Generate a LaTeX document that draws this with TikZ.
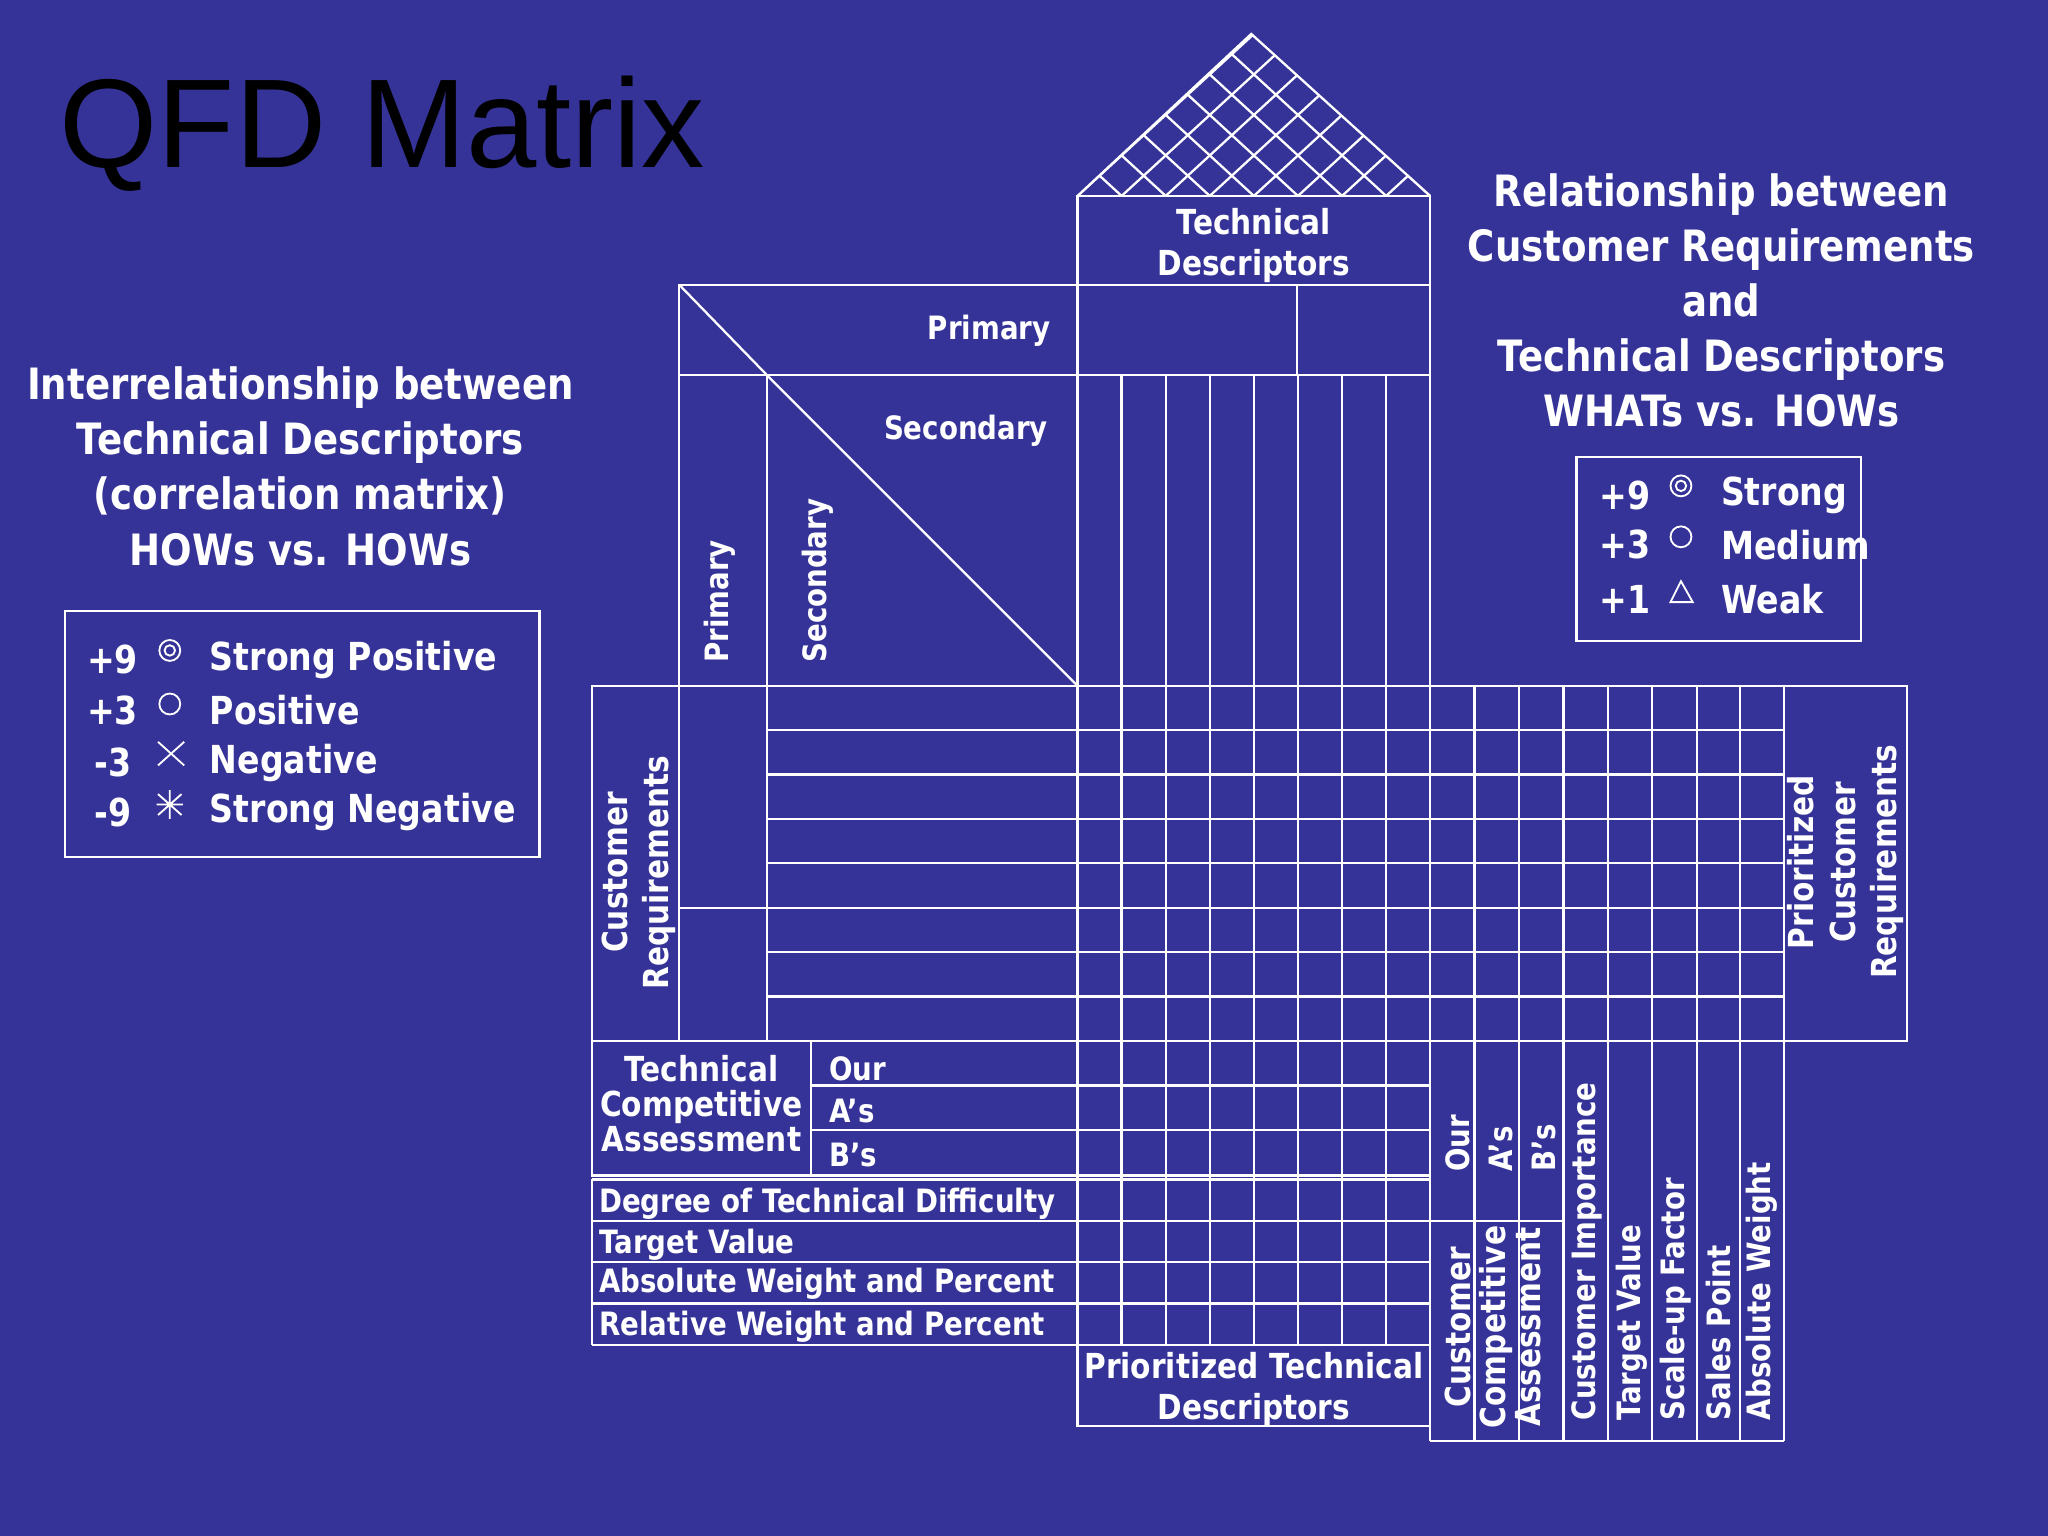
\documentclass[tikz,border=0pt]{standalone}
\usepackage{fontspec}
\setmainfont{DejaVu Sans}[FakeStretch=0.86]
\newfontfamily\titlefont{Liberation Sans}
\definecolor{bg}{RGB}{53,51,152}
\tikzset{
  ln/.style={white, line width=0.5pt},
  lbl/.style={text=white, font=\bfseries\fontsize{7}{8}\selectfont, inner sep=0pt},
  head/.style={text=white, font=\bfseries\fontsize{9.4}{12}\selectfont, align=center, inner sep=0pt},
  leg/.style={text=white, font=\bfseries\fontsize{8.4}{10}\selectfont, inner sep=0pt, anchor=west},
  sym/.style={white, line width=0.4pt}
}
\begin{document}
\begin{tikzpicture}[x=0.01cm,y=-0.01cm]
\fill[bg] (0,0) rectangle (1568,1176);
\useasboundingbox (0,0) rectangle (1568,1176);
\node[anchor=west, inner sep=0pt, font=\titlefont\fontsize{27.5}{30}\selectfont] (title) at (45,102) {QFD Matrix};
% roof
\begin{scope}
\clip (825,150) -- (958,26) -- (1095,150) -- cycle;
\foreach \i in {0,...,8} {
  \draw[ln] (825+33.75*\i,150) -- ++(270,-248);
  \draw[ln] (825+33.75*\i,150) -- ++(-270,-248);
}
\end{scope}
\draw[ln] (825,150) -- (958,26) -- (1095,150);
% technical descriptors box
\draw[ln] (825,150) rectangle (1095,218);
\node[lbl, align=center, font=\bfseries\fontsize{7.5}{9}\selectfont] (td) at (960,188) {Technical\\Descriptors};
% top region
\draw[ln] (520,218) rectangle (1095,525);
\draw[ln] (520,287) -- (1095,287);
\draw[ln] (993,218) -- (993,287);
\draw[ln] (520,218) -- (587,287) -- (825,525);
\draw[ln] (587,287) -- (587,525);
\draw[ln] (825,218) -- (825,1030);
\foreach \x in {858.75,892.5,926.25,960,993.75,1027.5,1061.25} \draw[ln] (\x,287) -- (\x,1030);
\node[lbl, anchor=east] (pr1) at (805,253) {Primary};
\node[lbl, anchor=east] (se1) at (803,330) {Secondary};
\node[lbl, rotate=90, anchor=west] (pr2) at (551,508) {Primary};
\node[lbl, rotate=90, anchor=west] (se2) at (626,508) {Secondary};
% main matrix
\draw[ln] (453,525) rectangle (1460,797);
\draw[ln] (520,525) -- (520,797);
\draw[ln] (587,525) -- (587,797);
\draw[ln] (520,695) -- (587,695);
\foreach \y in {559,593,627,661,695,729,763} \draw[ln] (587,\y) -- (1366,\y);
\foreach \x in {1095,1129,1163,1197,1231,1265,1299,1332,1366} \draw[ln] (\x,525) -- (\x,1103);
\node[lbl, rotate=90, align=center, font=\bfseries\fontsize{7.5}{9}\selectfont] (cr) at (489,668) {Customer\\Requirements};
\node[lbl, rotate=90, align=center, font=\bfseries\fontsize{7.5}{9}\selectfont] (pcr) at (1413,660) {Prioritized\\Customer\\Requirements};
% technical competitive assessment
\draw[ln] (453,797) rectangle (621,900);
\draw[ln] (621,797) -- (621,900);
\foreach \y in {831,865,900} \draw[ln] (621,\y) -- (1095,\y);
\node[lbl, align=center, font=\bfseries\fontsize{7.5}{7.7}\selectfont] (tca) at (537,845) {Technical\\Competitive\\Assessment};
\node[lbl, anchor=west] (our) at (634,818) {Our};
\node[lbl, anchor=west] (as) at (634,851) {A’s};
\node[lbl, anchor=west] (bs) at (634,884) {B’s};
% bottom rows
\foreach \y in {903,935,966,998,1030} \draw[ln] (453,\y) -- (1095,\y);
\draw[ln] (453,903) -- (453,1030);
\node[lbl, anchor=west] (dtd) at (458,922) {Degree of Technical Difficulty};
\node[lbl, anchor=west] (tv) at (458,953) {Target Value};
\node[lbl, anchor=west] (aw) at (458,983) {Absolute Weight and Percent};
\node[lbl, anchor=west] (rw) at (458,1016) {Relative Weight and Percent};
\draw[ln] (825,1030) rectangle (1095,1092);
\node[lbl, align=center, font=\bfseries\fontsize{7.5}{9}\selectfont] (ptd) at (960,1064) {Prioritized Technical\\Descriptors};
% right bottom
\draw[ln] (1095,935) -- (1197,935);
\draw[ln] (1095,1103) -- (1366,1103);
\node[lbl, rotate=90, anchor=west] (o2) at (1116,898) {Our};
\node[lbl, rotate=90, anchor=west] (a2) at (1149,898) {A’s};
\node[lbl, rotate=90, anchor=west] (b2) at (1182,898) {B’s};
\node[lbl, rotate=90, align=center, font=\bfseries\fontsize{7.5}{7.6}\selectfont] (cca) at (1143,1016) {Customer\\Competitive\\Assessment};
\node[lbl, rotate=90, anchor=west] (ci) at (1215,1088) {Customer Importance};
\node[lbl, rotate=90, anchor=west] (tv2) at (1249,1088) {Target Value};
\node[lbl, rotate=90, anchor=west] (sf) at (1283,1088) {Scale-up Factor};
\node[lbl, rotate=90, anchor=west] (sp) at (1316,1088) {Sales Point};
\node[lbl, rotate=90, anchor=west] (abw) at (1349,1088) {Absolute Weight};
% headings
\node[head] (h1) at (230,357) {Interrelationship between\\Technical Descriptors\\(correlation matrix)\\HOWs vs. HOWs};
\node[head] (h2) at (1318,230) {Relationship between\\Customer Requirements\\and\\Technical Descriptors\\WHATs vs. HOWs};
% left legend
\draw[ln] (50,468) rectangle (413,656);
\node[leg] (l1) at (66,505) {+9};
\node[leg] (l2) at (66,544) {+3};
\node[leg] (l3) at (72,584) {-3};
\node[leg] (l4) at (72,622) {-9};
\node[leg] (t1) at (160,505) {Strong Positive};
\node[leg] (t2) at (160,544) {Positive};
\node[leg] (t3) at (160,584) {Negative};
\node[leg] (t4) at (160,622) {Strong Negative};
\draw[sym] (130,498) circle (8); \draw[sym] (130,498) circle (4);
\draw[sym] (130,539) circle (8);
\draw[sym] (121,568) -- (141,586) (141,568) -- (121,586);
\draw[sym] (130,605) -- (130,627) (121,608) -- (139,624) (139,608) -- (121,624) (120,616) -- (140,616);
% right legend
\draw[ln] (1207,350) rectangle (1425,491);
\node[leg] (r1) at (1224,379) {+9};
\node[leg] (r2) at (1224,417) {+3};
\node[leg] (r3) at (1224,459) {+1};
\node[leg] (s1) at (1317,379) {Strong};
\node[leg] (s2) at (1317,417) {Medium};
\node[leg] (s3) at (1317,459) {Weak};
\draw[sym] (1287,372) circle (8); \draw[sym] (1287,372) circle (4);
\draw[sym] (1287,411) circle (8);
\draw[sym] (1279,461) -- (1287,445) -- (1296,461) -- cycle;
\end{tikzpicture}
\end{document}
